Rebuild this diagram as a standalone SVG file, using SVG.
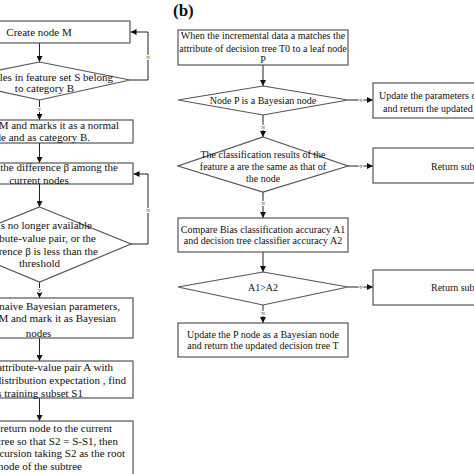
<svg xmlns="http://www.w3.org/2000/svg" width="474" height="474" viewBox="0 0 474 474">
<defs>
<marker id="ah" viewBox="0 0 8 8" refX="8" refY="4" markerWidth="6" markerHeight="6" markerUnits="userSpaceOnUse" orient="auto">
<path d="M0,0 L8,4 L0,8 Z" fill="#111"/>
</marker>
<style>
.bx{fill:#fff;stroke:#555;stroke-width:1.2}
.ln{fill:none;stroke:#222;stroke-width:1}
.tl{font-family:"Liberation Serif","Times New Roman",serif;font-size:11px;fill:#111}
.tr{font-family:"Liberation Serif","Times New Roman",serif;font-size:10px;fill:#111}
.e{text-anchor:end}
.m{text-anchor:middle}
.lb{font-family:"Liberation Serif",serif;font-size:5px;fill:#333;text-anchor:middle;stroke:#fff;stroke-width:2;paint-order:stroke}
</style>
</defs>
<rect width="474" height="474" fill="#fff"/>

<g id="connectors">
<line class="ln" x1="39.5" y1="43" x2="39.5" y2="62" marker-end="url(#ah)"/>
<polyline class="ln" points="130,80 148,80 148,32 130.5,32" marker-end="url(#ah)"/>
<line class="ln" x1="39.5" y1="100" x2="39.5" y2="120" marker-end="url(#ah)"/>
<line class="ln" x1="39.5" y1="143" x2="39.5" y2="163" marker-end="url(#ah)"/>
<line class="ln" x1="39.5" y1="184" x2="39.5" y2="207" marker-end="url(#ah)"/>
<polyline class="ln" points="131,244 148,244 148,174 133.5,174" marker-end="url(#ah)"/>
<line class="ln" x1="39.5" y1="282" x2="39.5" y2="298" marker-end="url(#ah)"/>
<line class="ln" x1="39.5" y1="338" x2="39.5" y2="361" marker-end="url(#ah)"/>
<line class="ln" x1="39.5" y1="398" x2="39.5" y2="421" marker-end="url(#ah)"/>

<line class="ln" x1="263" y1="65" x2="263" y2="86" marker-end="url(#ah)"/>
<line class="ln" x1="348" y1="100" x2="373" y2="100" marker-end="url(#ah)"/>
<line class="ln" x1="263" y1="115" x2="263" y2="137" marker-end="url(#ah)"/>
<line class="ln" x1="348" y1="166" x2="373" y2="166" marker-end="url(#ah)"/>
<line class="ln" x1="263" y1="192" x2="263" y2="218" marker-end="url(#ah)"/>
<line class="ln" x1="263" y1="252" x2="263" y2="272" marker-end="url(#ah)"/>
<line class="ln" x1="348" y1="287" x2="373" y2="287" marker-end="url(#ah)"/>
<line class="ln" x1="263" y1="305" x2="263" y2="323" marker-end="url(#ah)"/>

<text class="lb" x="148" y="58.5">N</text>
<text class="lb" x="148" y="211.5">N</text>
<text class="lb" x="39.5" y="110.5">Y</text>
<text class="lb" x="39.5" y="291.5">Y</text>
<text class="lb" x="263" y="128.5">N</text>
<text class="lb" x="263" y="204.5">N</text>
<text class="lb" x="263" y="314.5">N</text>
<text class="lb" x="361" y="101.5">Y</text>
<text class="lb" x="361" y="167.5">Y</text>
<text class="lb" x="361" y="288.5">Y</text>
</g>

<g id="a-create">
<rect class="bx" x="-60" y="21" width="190" height="22"/>
<text class="tl m" x="39" y="36">Create node M</text>
</g>
<g id="a-dec1">
<polygon class="bx" points="39.5,62 130,80 39.5,100 -51,80"/>
<text class="tl e" x="113" y="81">ples in feature set S belong</text>
<text class="tl m" x="44.5" y="92">to category B</text>
</g>
<g id="a-mark">
<rect class="bx" x="-60" y="120" width="193" height="23"/>
<text class="tl e" x="119" y="129">M and marks it as a normal</text>
<text class="tl e" x="90" y="141">de and as category B.</text>
</g>
<g id="a-diff">
<rect class="bx" x="-60" y="163" width="193" height="21"/>
<text class="tl e" x="118" y="171">the difference β among the</text>
<text class="tl m" x="39" y="184">current nodes</text>
</g>
<g id="a-dec2">
<polygon class="bx" points="39.5,207 131,244 39.5,282 -52,244"/>
<text class="tl e" x="92" y="229">is no longer available</text>
<text class="tl e" x="96" y="242">bute-value pair, or the</text>
<text class="tl e" x="98" y="255">rence β is less than the</text>
<text class="tl m" x="39.5" y="267">threshold</text>
</g>
<g id="a-bayes">
<rect class="bx" x="-60" y="298" width="193" height="40"/>
<text class="tl e" x="120" y="310">naive Bayesian parameters,</text>
<text class="tl e" x="116" y="322">M and mark it as Bayesian</text>
<text class="tl m" x="38.5" y="337">nodes</text>
</g>
<g id="a-attr">
<rect class="bx" x="-60" y="361" width="193" height="37"/>
<text class="tl e" x="113" y="371">attribute-value pair A with</text>
<text class="tl e" x="126" y="384">distribution expectation , find</text>
<text class="tl e" x="83" y="397">s training subset S1</text>
</g>
<g id="a-return">
<rect class="bx" x="-60" y="421" width="193" height="60"/>
<text class="tl e" x="112" y="432">return node to the current</text>
<text class="tl e" x="118" y="445">tree so that S2 = S-S1, then</text>
<text class="tl e" x="125" y="457">cursion taking S2 as the root</text>
<text class="tl e" x="82" y="470">node of the subtree</text>
</g>

<text x="173" y="16" font-family="Liberation Serif, serif" font-size="17" font-weight="bold" fill="#111">(b)</text>

<g id="b-start">
<rect class="bx" x="178" y="30" width="170" height="35"/>
<text class="tr m" x="263" y="38.5">When the incremental data a matches the</text>
<text class="tr m" x="263" y="51.5">attribute of decision tree T0 to a leaf node</text>
<text class="tr m" x="263" y="62.5">P</text>
</g>
<g id="b-dec1">
<polygon class="bx" points="263,86 348,100 263,115 178,100"/>
<text class="tr m" x="263" y="103.5">Node P is a Bayesian node</text>
</g>
<g id="b-update-params">
<rect class="bx" x="373" y="83" width="120" height="35"/>
<text class="tr" x="379" y="98.5">Update the parameters of</text>
<text class="tr" x="383" y="111.5">and return the updated</text>
</g>
<g id="b-dec2">
<polygon class="bx" points="263,137 348,166 263,192 178,166"/>
<text class="tr m" x="263" y="157.5">The classification results of the</text>
<text class="tr m" x="263" y="169.5">feature a are the same as that of</text>
<text class="tr m" x="263" y="181.5">the node</text>
</g>
<g id="b-return1">
<rect class="bx" x="373" y="148" width="120" height="35"/>
<text class="tr" x="431" y="169.5">Return subset</text>
</g>
<g id="b-compare">
<rect class="bx" x="178" y="218" width="170" height="34"/>
<text class="tr m" x="263" y="232.5">Compare Bias classification accuracy A1</text>
<text class="tr m" x="263" y="243.5">and decision tree classifier accuracy A2</text>
</g>
<g id="b-dec3">
<polygon class="bx" points="263,272 348,287 263,305 178,287"/>
<text class="tr m" x="263" y="290.5">A1&gt;A2</text>
</g>
<g id="b-return2">
<rect class="bx" x="373" y="270" width="120" height="35"/>
<text class="tr" x="431" y="290.5">Return subset</text>
</g>
<g id="b-update-node">
<rect class="bx" x="178" y="323" width="170" height="34"/>
<text class="tr m" x="263" y="337.5">Update the P node as a Bayesian node</text>
<text class="tr m" x="263" y="348.5">and return the updated decision tree T</text>
</g>
</svg>
